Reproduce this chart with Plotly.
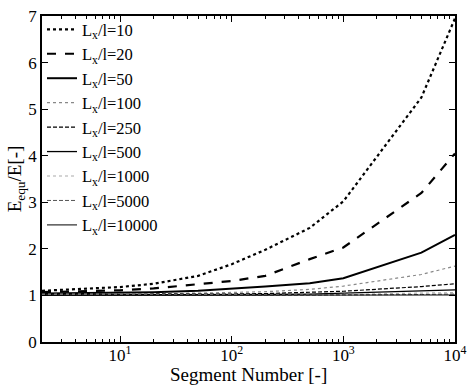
import plotly.graph_objects as go

segments = [2, 5, 10, 20, 50, 100, 200, 500, 1000, 5000, 10000]
ratios = ["10", "20", "50", "100", "250", "500", "1000", "5000", "10000"]
e_10 = [1.10, 1.14, 1.18, 1.25, 1.42, 1.67, 1.98, 2.45, 3.02, 5.25, 6.95]
e_20 = [1.07, 1.09, 1.11, 1.15, 1.24, 1.31, 1.42, 1.78, 2.03, 3.20, 4.05]
e_50 = [1.04, 1.05, 1.06, 1.07, 1.10, 1.14, 1.19, 1.26, 1.37, 1.92, 2.30]
e_100 = [1.03, 1.03, 1.03, 1.04, 1.05, 1.06, 1.08, 1.13, 1.20, 1.45, 1.63]
e_250 = [1.02, 1.02, 1.02, 1.02, 1.03, 1.03, 1.04, 1.06, 1.09, 1.19, 1.25]
e_500 = [1.01, 1.01, 1.01, 1.01, 1.02, 1.02, 1.02, 1.03, 1.05, 1.09, 1.12]
e_1000 = [1.01, 1.01, 1.01, 1.01, 1.01, 1.01, 1.01, 1.02, 1.02, 1.05, 1.06]
e_5000 = [1.00, 1.00, 1.00, 1.00, 1.00, 1.00, 1.01, 1.01, 1.01, 1.02, 1.03]
e_10000 = [1.00, 1.00, 1.00, 1.00, 1.00, 1.00, 1.00, 1.00, 1.00, 1.01, 1.01]
series = [e_10, e_20, e_50, e_100, e_250, e_500, e_1000, e_5000, e_10000]

x_tickvals = [10, 100, 1000, 10000]
x_ticktext = ["10<sup>1</sup>", "10<sup>2</sup>", "10<sup>3</sup>", "10<sup>4</sup>"]
y_tickvals = [0, 1, 2, 3, 4, 5, 6, 7]

styles = [
    dict(color="black", width=2.2, dash="dot"),
    dict(color="black", width=2.2, dash="dash"),
    dict(color="black", width=2.0, dash="solid"),
    dict(color="#888888", width=1.2, dash="dot"),
    dict(color="black", width=1.2, dash="4px,2px"),
    dict(color="black", width=1.3, dash="solid"),
    dict(color="#aaaaaa", width=1.2, dash="dot"),
    dict(color="#555555", width=1.0, dash="4px,2px"),
    dict(color="black", width=1.0, dash="solid"),
]

fig = go.Figure()
for r, ys, st in zip(ratios, series, styles):
    fig.add_trace(go.Scatter(x=segments, y=ys, mode="lines", line=st,
                             name=f"L<sub>x</sub>/l={r}"))

minor_vals = [m * 10 ** k for k in range(0, 4) for m in range(2, 10) if m * 10 ** k >= 2]

font = "Liberation Serif, Times New Roman, serif"
fig.update_layout(
    width=474, height=387,
    margin=dict(l=42, r=12, t=7, b=45),
    paper_bgcolor="white", plot_bgcolor="white",
    font=dict(family=font, size=17, color="black"),
    showlegend=True,
    legend=dict(x=0.0, y=1.012, xanchor="left", yanchor="top",
                bgcolor="rgba(0,0,0,0)", font=dict(size=16.5),
                tracegroupgap=0, itemwidth=30, maxheight=380),
    xaxis=dict(type="log", range=[0.301, 4], tickvals=x_tickvals, ticktext=x_ticktext,
               ticks="inside", ticklen=6, tickcolor="black", showline=True,
               linecolor="black", linewidth=1.5, mirror="ticks", showgrid=False,
               zeroline=False, ticklabeloverflow="allow", ticklabelstandoff=-3,
               minor=dict(tickvals=minor_vals, ticks="inside", ticklen=3,
                          tickcolor="black", showgrid=False),
               tickfont=dict(size=17)),
    yaxis=dict(range=[0, 7], tickvals=y_tickvals, ticks="inside", ticklen=6,
               tickcolor="black", showline=True, linecolor="black", linewidth=1.5,
               mirror="ticks", showgrid=False, zeroline=False, ticklabeloverflow="allow",
               title=dict(text="E<sub>equ</sub>/E[-]", font=dict(size=19), standoff=2),
               tickfont=dict(size=17)),
    annotations=[dict(text="Segment Number [-]", xref="paper", yref="paper",
                      x=0.5, y=-0.1, xanchor="center", yanchor="middle",
                      showarrow=False, font=dict(size=19))],
)

fig.write_html("out.html", config={"displayModeBar": False},
               post_script="document.body.style.margin='0';document.body.style.overflow='hidden';")
